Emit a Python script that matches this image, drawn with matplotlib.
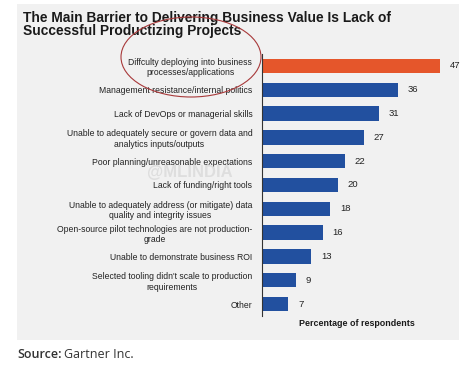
import matplotlib.pyplot as plt
from matplotlib.patches import Rectangle, Ellipse

# data, top to bottom
labels = [
    "Diffculty deploying into business\nprocesses/applications",
    "Management resistance/internal politics",
    "Lack of DevOps or managerial skills",
    "Unable to adequately secure or govern data and\nanalytics inputs/outputs",
    "Poor planning/unreasonable expectations",
    "Lack of funding/right tools",
    "Unable to adequately address (or mitigate) data\nquality and integrity issues",
    "Open-source pilot technologies are not production-\ngrade",
    "Unable to demonstrate business ROI",
    "Selected tooling didn't scale to production\nrequirements",
    "Other",
]
values = [47, 36, 31, 27, 22, 20, 18, 16, 13, 9, 7]
highlight = 0

W, H = 474, 367
fig = plt.figure(figsize=(W / 100, H / 100), dpi=100)
fig.patch.set_facecolor("white")

# grey panel
fig.add_artist(Rectangle((17 / W, 1 - 340 / H), 442 / W, 336 / H,
                         transform=fig.transFigure, facecolor="#f1f1f1",
                         edgecolor="none", zorder=0))

fig.text(23 / W, 1 - 11 / H,
         "The Main Barrier to Delivering Business Value Is Lack of\nSuccessful Productizing Projects",
         fontsize=9.9, fontweight="bold", family="Liberation Sans",
         va="top", ha="left", color="#1a1a1a", linespacing=0.92)

# watermark
fig.text(190 / W, 1 - 173 / H, "@MLINDIA", fontsize=12, fontweight="bold",
         family="Liberation Sans", color="#dedede", ha="center", va="center")

ax = fig.add_axes([262 / W, 1 - 316 / H, 208 / W, 262 / H])
ax.patch.set_visible(False)
colors = ["#e5562b" if i == highlight else "#22509f" for i in range(len(values))]
ypos = list(range(len(values)))
ax.barh(ypos, values, height=0.6, color=colors)
for y, v in zip(ypos, values):
    ax.annotate(str(v), (v, y), xytext=(7, 0), textcoords="offset points",
                va="center", ha="left", fontsize=6.8, family="Liberation Sans",
                color="#222222")
ax.set_xlim(0, 55)
ax.set_ylim(len(values) - 0.5, -0.5)
ax.set_yticks(ypos)
ax.set_yticklabels(labels, fontsize=6.2, family="Liberation Sans",
                   multialignment="center", color="#222222")
ax.tick_params(axis="y", length=0, pad=7)
ax.set_xticks([])
for s in ["top", "right", "bottom"]:
    ax.spines[s].set_visible(False)
ax.spines["left"].set_color("#333333")
ax.spines["left"].set_linewidth(0.8)

fig.text(357 / W, 1 - 324 / H, "Percentage of respondents", fontsize=6.4,
         fontweight="bold", family="Liberation Sans", ha="center", va="center",
         color="#1a1a1a")

# red circle around the top category
fig.add_artist(Ellipse((191 / W, 1 - 57 / H), 140 / W, 80 / H, angle=0,
                       transform=fig.transFigure, fill=False,
                       edgecolor="#a8393a", linewidth=0.8, zorder=5))

fig.text(17 / W, 1 - 355 / H, "Source:", fontsize=9, family="Open Sans",
         fontweight="semibold", color="#333333", ha="left", va="center")
fig.text(64 / W, 1 - 355 / H, "Gartner Inc.", fontsize=9, family="Open Sans",
         color="#333333", ha="left", va="center")

fig.savefig("out.png", dpi=100)
